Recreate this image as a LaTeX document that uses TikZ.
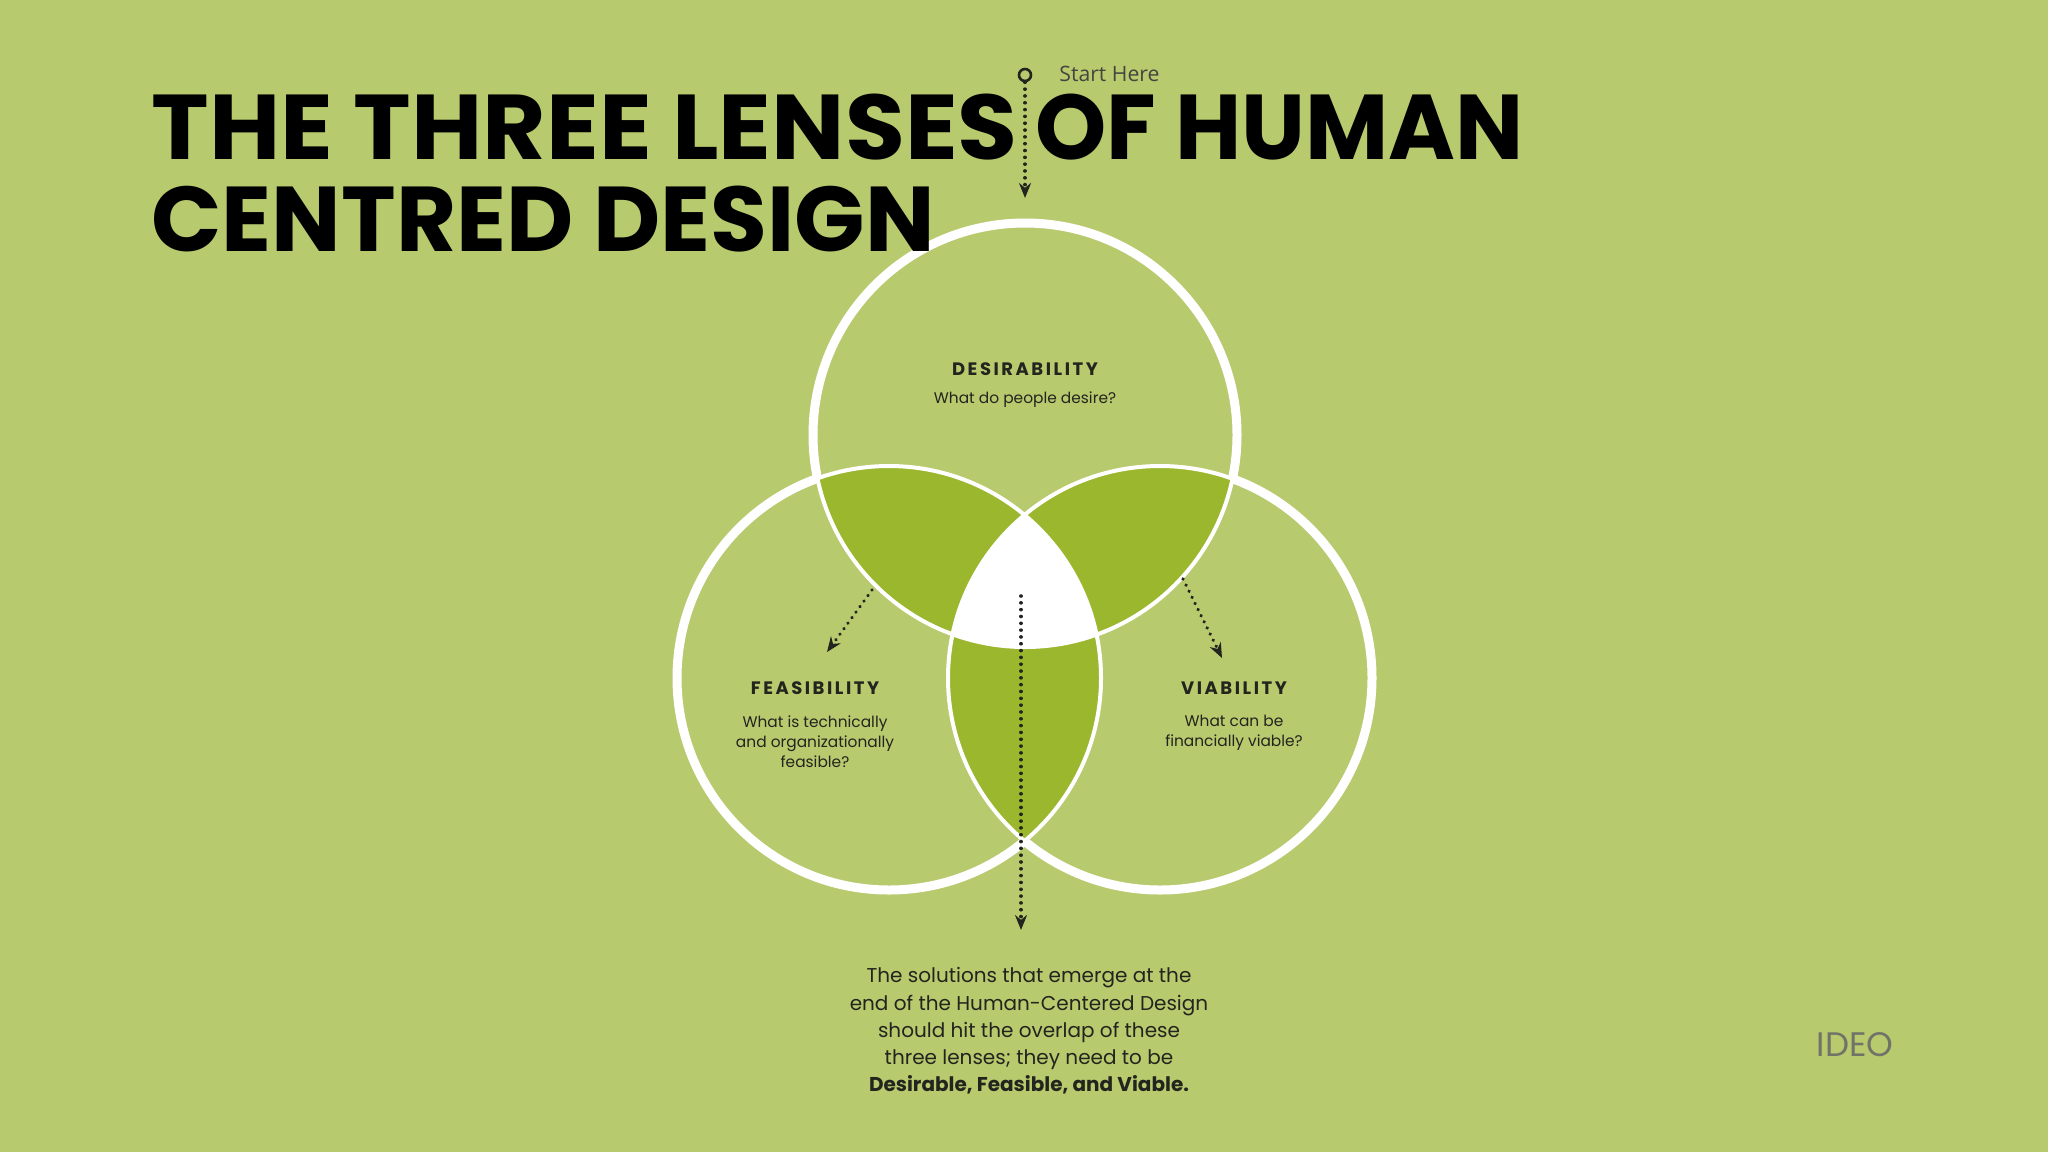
\documentclass[tikz,border=0pt]{standalone}
\usepackage{fontspec}
\usetikzlibrary{arrows.meta}
\setmainfont{Poppins}
\newfontfamily\opensans{Open Sans}
\definecolor{bg}{RGB}{184,202,110}
\definecolor{lensdark}{RGB}{155,183,46}
\definecolor{ink}{RGB}{34,36,30}
\definecolor{ideogray}{RGB}{112,116,104}
\tikzset{
  dotline/.style={draw=ink, line width=1.8pt, dash pattern=on 0.01pt off 3.4pt, line cap=round},
  tip/.style={-{Stealth[length=7.5pt,width=6pt]}},
  lenslabel/.style={font=\fontsize{9}{11}\selectfont\bfseries\addfontfeature{LetterSpace=14}, text=ink, inner sep=0},
  lenssub/.style={font=\fontsize{7.7}{10}\selectfont, text=ink, align=center, inner sep=0},
  titletext/.style={font=\fontsize{46}{50}\selectfont\bfseries, text=black, inner sep=0, anchor=base west},
}
\begin{document}
\begin{tikzpicture}[x=0.5pt,y=-0.5pt]
\fill[bg] (0,0) rectangle (2048,1152);
\useasboundingbox (0,0) rectangle (2048,1152);
\def\R{212}
\coordinate (A) at (1025,435);
\coordinate (B) at (889,678);
\coordinate (C) at (1160,678);
% pairwise intersections
\begin{scope}\clip (A) circle[radius=\R]; \fill[lensdark] (B) circle[radius=\R]; \fill[lensdark] (C) circle[radius=\R];\end{scope}
\begin{scope}\clip (B) circle[radius=\R]; \fill[lensdark] (C) circle[radius=\R];\end{scope}
% triple intersection
\begin{scope}\clip (A) circle[radius=\R]; \clip (B) circle[radius=\R]; \fill[white] (C) circle[radius=\R];\end{scope}
% thin inner arcs
\draw[white, line width=2pt] (A) circle[radius=\R] (B) circle[radius=\R] (C) circle[radius=\R];
% thick outer boundary
\begin{scope}[even odd rule]
  \clip (-10,-10) rectangle (2060,1160) (B) circle[radius=\R];
  \clip (-10,-10) rectangle (2060,1160) (C) circle[radius=\R];
  \draw[white, line width=4.5pt] (A) circle[radius=\R];
\end{scope}
\begin{scope}[even odd rule]
  \clip (-10,-10) rectangle (2060,1160) (A) circle[radius=\R];
  \clip (-10,-10) rectangle (2060,1160) (C) circle[radius=\R];
  \draw[white, line width=4.5pt] (B) circle[radius=\R];
\end{scope}
\begin{scope}[even odd rule]
  \clip (-10,-10) rectangle (2060,1160) (A) circle[radius=\R];
  \clip (-10,-10) rectangle (2060,1160) (B) circle[radius=\R];
  \draw[white, line width=4.5pt] (C) circle[radius=\R];
\end{scope}
% start marker and arrows
\node[draw=ink, line width=1.3pt, circle, minimum size=6pt, inner sep=0] (start) at (1025,75) {};
\node[font=\opensans\fontsize{10.6}{12}\selectfont, text=ink!85, anchor=west, inner sep=0] (starttext) at (1059,74) {Start Here};
\coordinate (starttip) at (1025,198);
\draw[dotline, tip] (start.south) -- (starttip);
\coordinate (fs) at (872,590); \coordinate (fe) at (827,652);
\coordinate (vs) at (1183,579); \coordinate (ve) at (1222,658);
\coordinate (cs) at (1021,596); \coordinate (ce) at (1021,930);
\draw[dotline, tip] (fs) -- (fe);
\draw[dotline, tip] (vs) -- (ve);
\draw[dotline, tip] (cs) -- (ce);
% title
\node[titletext] (t1) at (151,159) {\scalebox{1.06}[1]{THE THREE LENSES}};
\node[titletext] (t1b) at (1035,159) {\scalebox{0.985}[1]{OF HUMAN}};
\node[titletext] (t2) at (151,251) {\scalebox{1.005}[1]{CENTRED DESIGN}};
% lens labels
\node[lenslabel] (des) at (1025,369) {DESIRABILITY};
\node[lenssub] (dessub) at (1025,400) {What do people desire?};
\node[lenslabel] (fea) at (815,688) {FEASIBILITY};
\node[lenssub, anchor=north] (feasub) at (815,715) {What is technically\\and organizationally\\feasible?};
\node[lenslabel] (via) at (1234,688) {VIABILITY};
\node[lenssub, anchor=north] (viasub) at (1234,715) {What can be\\financially viable?};
% bottom text
\node[font=\fontsize{10}{13.6}\selectfont, text=ink, align=center, inner sep=0] (bottom) at (1029,1031)
 {The solutions that emerge at the\\end of the Human-Centered Design\\should hit the overlap of these\\three lenses; they need to be\\\textbf{Desirable, Feasible, and Viable.}};
\node[font=\fontsize{17}{19}\selectfont, text=ideogray, inner sep=0] (ideo) at (1855,1045) {IDEO};
\end{tikzpicture}
\end{document}
